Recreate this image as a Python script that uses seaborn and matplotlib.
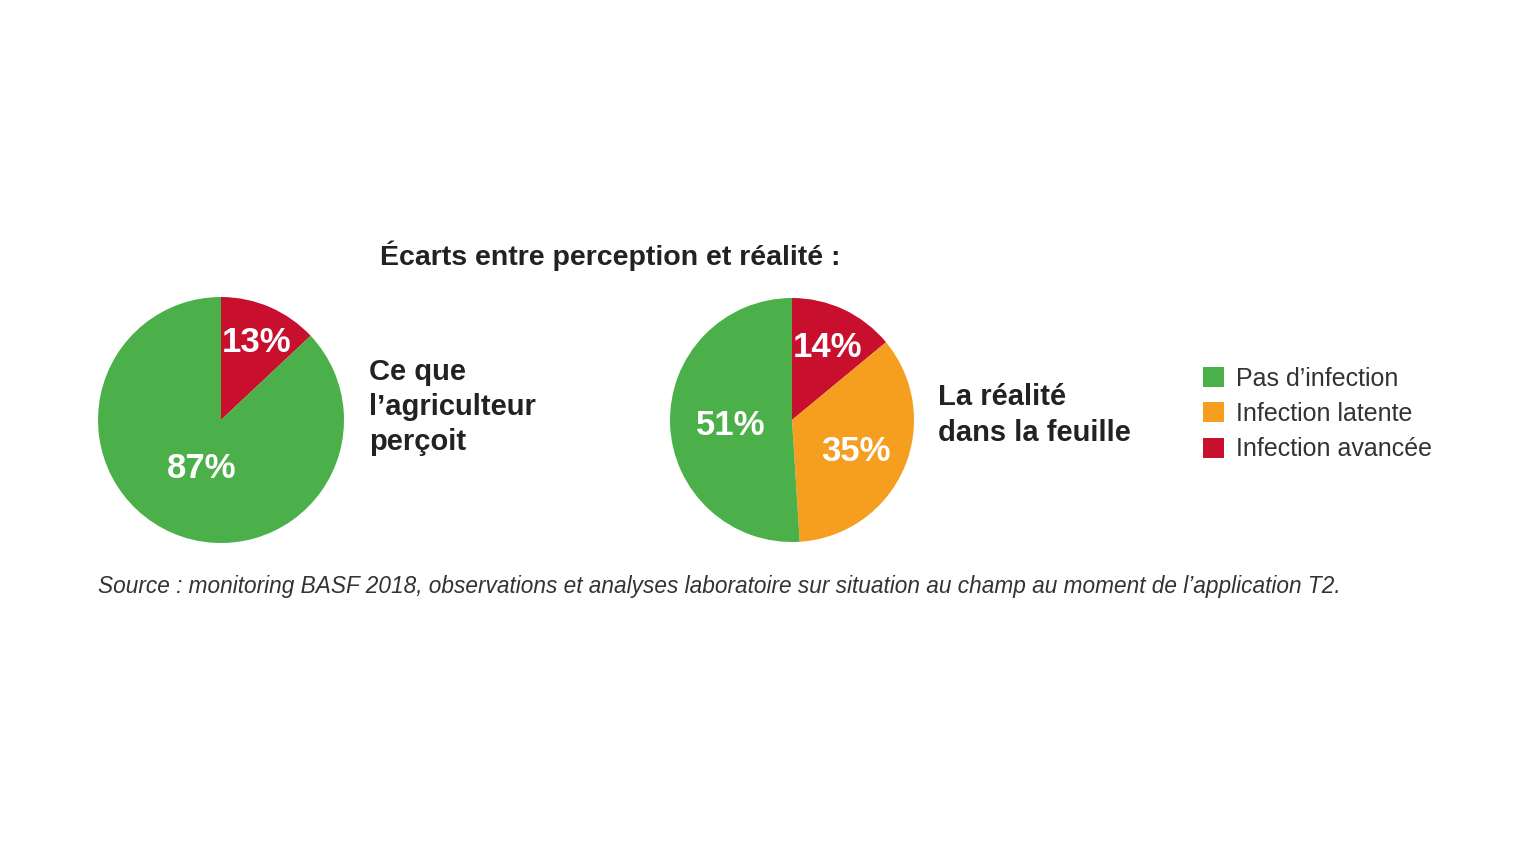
import numpy as np
import matplotlib.pyplot as plt
import seaborn as sns
from matplotlib.patches import Patch

# Data
categories = ["Pas d\u2019infection", "Infection latente", "Infection avanc\u00e9e"]
colors = {"Pas d\u2019infection": "#4bb04a",
          "Infection latente": "#f59e20",
          "Infection avanc\u00e9e": "#c8102e"}

# wedges listed clockwise from 12 o'clock
percu_labels = ["Infection avanc\u00e9e", "Pas d\u2019infection"]
percu_values = [13, 87]
reel_labels = ["Infection avanc\u00e9e", "Infection latente", "Pas d\u2019infection"]
reel_values = [14, 35, 51]

title = "\u00c9carts entre perception et r\u00e9alit\u00e9 :"
left_caption = "Ce que\nl\u2019agriculteur\nper\u00e7oit"
right_caption = "La r\u00e9alit\u00e9\ndans la feuille"
source = ("Source : monitoring BASF 2018, observations et analyses laboratoire "
          "sur situation au champ au moment de l\u2019application T2.")

sns.set_theme(style="white")
plt.rcParams['font.family'] = ['Liberation Sans', 'DejaVu Sans']

W, H = 1540, 866
fig = plt.figure(figsize=(W / 100, H / 100), dpi=100)
fig.patch.set_facecolor("white")


def add_pie(cx, cy, r, labels, values, label_r):
    ax = fig.add_axes([(cx - r) / W, 1 - (cy + r) / H, 2 * r / W, 2 * r / H])
    wedges, _ = ax.pie(values, colors=[colors[l] for l in labels],
                       startangle=90, counterclock=False, radius=1,
                       wedgeprops=dict(linewidth=0))
    for w, v, lr in zip(wedges, values, label_r):
        ang = np.deg2rad((w.theta1 + w.theta2) / 2)
        ax.text(lr * np.cos(ang), lr * np.sin(ang), f"{v}%", color="white",
                fontsize=25, fontweight="bold", ha="center", va="center_baseline")
    ax.set_xlim(-1, 1)
    ax.set_ylim(-1, 1)
    ax.set_aspect("equal")
    ax.axis("off")
    return ax


add_pie(221, 420, 123, percu_labels, percu_values, [0.72, 0.40])
add_pie(792, 420, 122, reel_labels, reel_values, [0.69, 0.57, 0.50])

fig.text(380 / W, 1 - 256 / H, title, fontsize=20.5, fontweight="bold",
         color="#222222", ha="left", va="center")
fig.text(369 / W, 1 - 407 / H, left_caption, fontsize=21, fontweight="bold",
         color="#222222", ha="left", va="center", linespacing=1.33)
fig.text(938 / W, 1 - 415 / H, right_caption, fontsize=21, fontweight="bold",
         color="#222222", ha="left", va="center", linespacing=1.33)
fig.text(98 / W, 1 - 587 / H, source, fontsize=16.3, style="italic",
         color="#333333", ha="left", va="center")

handles = [Patch(facecolor=colors[c], edgecolor="none", label=c) for c in categories]
fig.legend(handles=handles, loc="center left",
           bbox_to_anchor=(1180 / W, 1 - 414 / H), frameon=False,
           fontsize=18, handlelength=0.85, handleheight=0.85,
           handletextpad=0.5, labelspacing=0.45, labelcolor="#333333")

fig.savefig("out.png", dpi=100, facecolor="white")
